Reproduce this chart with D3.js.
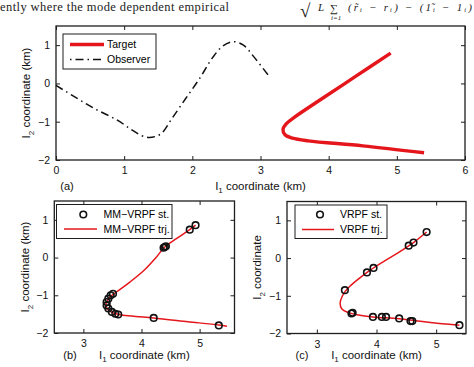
<!DOCTYPE html>
<html><head><meta charset="utf-8">
<script src="https://cdn.jsdelivr.net/npm/d3@7/dist/d3.min.js"></script>
<style>body{margin:0;background:#fff}svg{display:block}</style>
</head><body>
<svg id="c" width="474" height="367"></svg>
<script>
// ---- data ----
const targetX = [4.91, 4.4, 3.9, 3.5, 3.38, 3.33, 3.36, 3.47, 3.7, 4.5, 5.4];
const targetY = [0.79, 0.19, -0.4, -0.88, -1.05, -1.2, -1.34, -1.43, -1.5, -1.63, -1.81];
const observerX = [0, 0.3, 0.6, 0.9, 1.1, 1.25, 1.35, 1.45, 1.55, 1.7, 1.9, 2.1, 2.3, 2.45, 2.6, 2.75, 2.9, 3.12];
const observerY = [-0.05, -0.38, -0.69, -0.96, -1.2, -1.36, -1.41, -1.39, -1.3, -0.92, -0.4, 0.11, 0.68, 0.98, 1.09, 1.0, 0.7, 0.2];

const mmStX = [4.93, 4.83, 4.38, 4.42, 4.40, 3.51, 3.47, 3.43, 3.40, 3.40, 3.43, 3.49, 3.55, 3.60, 4.21, 5.33];
const mmStY = [0.86, 0.74, 0.26, 0.30, 0.28, -0.96, -1.0, -1.09, -1.18, -1.27, -1.35, -1.44, -1.49, -1.51, -1.60, -1.80];
const mmTrjX = [4.93, 4.83, 4.6, 4.4, 4.25, 4.05, 3.8, 3.58, 3.45, 3.39, 3.41, 3.5, 3.65, 3.9, 4.21, 4.8, 5.33, 5.47];
const mmTrjY = [0.86, 0.74, 0.5, 0.28, 0.0, -0.33, -0.65, -0.9, -1.06, -1.22, -1.36, -1.46, -1.52, -1.56, -1.6, -1.7, -1.79, -1.82];

const vrStX = [4.84, 4.62, 4.54, 3.95, 3.84, 3.47, 3.60, 3.58, 3.94, 4.09, 4.16, 4.38, 4.57, 4.60, 5.39];
const vrStY = [0.69, 0.41, 0.33, -0.26, -0.38, -0.85, -1.45, -1.47, -1.56, -1.56, -1.56, -1.60, -1.67, -1.67, -1.78];
const vrTrjX = [4.84, 4.62, 4.4, 4.15, 3.9, 3.7, 3.52, 3.43, 3.39, 3.42, 3.52, 3.7, 3.94, 4.38, 4.8, 5.1, 5.39];
const vrTrjY = [0.69, 0.41, 0.18, -0.06, -0.31, -0.55, -0.8, -1.0, -1.2, -1.35, -1.44, -1.51, -1.56, -1.61, -1.69, -1.74, -1.78];

const xTicksA = [0, 1, 2, 3, 4, 5, 6];
const xTicksBC = [3, 4, 5];
const yTicks = [-2, -1, 0, 1];

// ---- drawing ----
const svg = d3.select("#c");
const FONT = "Liberation Sans, Arial, Helvetica, sans-serif";
const RED = "#e5161b";
const INK = "#1e1e1e";
const fmt = d => d < 0 ? "\u2212" + Math.abs(d) : String(d);

// header text (scanned page fragment)
svg.append("text").attr("x", 0).attr("y", 11)
  .attr("font-family", "Liberation Serif, DejaVu Serif, serif").attr("font-size", 12.5)
  .attr("fill", "#222").attr("textLength", 229).attr("lengthAdjust", "spacing")
  .text("ently where the mode dependent empirical");
const fh = svg.append("g").attr("font-family", "Liberation Serif, DejaVu Serif, serif").attr("fill", "#222");
fh.append("text").attr("x", 300).attr("y", 17).attr("font-size", 19).text("\u221A");
fh.append("text").attr("x", 318).attr("y", 11).attr("font-size", 11).attr("font-style", "italic").text("L");
fh.append("text").attr("x", 330).attr("y", 12).attr("font-size", 11).text("\u2211");
fh.append("text").attr("x", 331).attr("y", 20).attr("font-size", 7).attr("font-style", "italic").text("i=1");
fh.append("text").attr("x", 348).attr("y", 11).attr("font-size", 11).attr("font-style", "italic")
  .attr("textLength", 124).attr("lengthAdjust", "spacing").text("(r\u0303\u1D62 \u2212 r\u1D62)  \u2212  (1\u0303\u1D62 \u2212 1\u1D62)");

function panel(cfg) {
  const x = d3.scaleLinear().domain(cfg.xd).range(cfg.xr);
  const y = d3.scaleLinear().domain([-2, 1.5]).range(cfg.yr);
  const g = svg.append("g");
  const axStyle = sel => {
    sel.select(".domain").remove();
    sel.selectAll("line").attr("stroke", INK).attr("stroke-width", 1);
    sel.selectAll("text").attr("font-family", FONT).attr("font-size", 10.5).attr("fill", "#111");
  };
  g.append("g").attr("transform", `translate(0,${cfg.yr[0]})`)
    .call(d3.axisBottom(x).tickValues(cfg.xt).tickFormat(fmt).tickSize(-4).tickPadding(7)).call(axStyle);
  g.append("g").attr("transform", `translate(0,${cfg.yr[1]})`)
    .call(d3.axisTop(x).tickValues(cfg.xt).tickFormat("").tickSize(-4)).call(axStyle);
  g.append("g").attr("transform", `translate(${cfg.xr[0]},0)`)
    .call(d3.axisLeft(y).tickValues(yTicks).tickFormat(fmt).tickSize(-4).tickPadding(6)).call(axStyle);
  g.append("g").attr("transform", `translate(${cfg.xr[1]},0)`)
    .call(d3.axisRight(y).tickValues(yTicks).tickFormat("").tickSize(-4)).call(axStyle);
  g.append("rect").attr("x", cfg.xr[0]).attr("y", cfg.yr[1])
    .attr("width", cfg.xr[1] - cfg.xr[0]).attr("height", cfg.yr[0] - cfg.yr[1])
    .attr("fill", "none").attr("stroke", INK).attr("stroke-width", 1.3);

  // x label
  const xl = g.append("text").attr("x", (cfg.xr[0] + cfg.xr[1]) / 2).attr("y", cfg.xly)
    .attr("text-anchor", "middle").attr("font-family", FONT).attr("font-size", 11.5).attr("fill", "#111");
  xl.append("tspan").text("I");
  xl.append("tspan").attr("dy", 3.5).attr("font-size", 8).text("1");
  xl.append("tspan").attr("dy", -3.5).text(" coordinate (km)");
  // y label
  const yl = g.append("text").attr("transform", `translate(${cfg.ylx},${(cfg.yr[0] + cfg.yr[1]) / 2}) rotate(-90)`)
    .attr("text-anchor", "middle").attr("font-family", FONT).attr("font-size", 11.5).attr("fill", "#111");
  yl.append("tspan").text("I");
  yl.append("tspan").attr("dy", 3.5).attr("font-size", 8).text("2");
  yl.append("tspan").attr("dy", -3.5).text(cfg.ytext);
  // panel tag
  g.append("text").attr("x", cfg.tag[0]).attr("y", cfg.tag[1]).attr("text-anchor", "middle")
    .attr("font-family", FONT).attr("font-size", 11).attr("fill", "#111").text(cfg.tagText);
  return {g, x, y};
}

const line = (x, y) => d3.line().x(d => x(d[0])).y(d => y(d[1])).curve(d3.curveCatmullRom.alpha(0.5));
const zip = (a, b) => a.map((v, i) => [v, b[i]]);

// ---- panel (a) ----
const A = panel({xd: [0, 6], xr: [56, 465], yr: [160, 26], xt: xTicksA, xly: 189.5, ylx: 30,
  ytext: " coordinate (km)", tag: [67, 189.5], tagText: "(a)"});
A.g.append("path").datum(zip(observerX, observerY)).attr("d", line(A.x, A.y))
  .attr("fill", "none").attr("stroke", "#111").attr("stroke-width", 1.5).attr("stroke-dasharray", "8,4,1.5,4");
A.g.append("path").datum(zip(targetX, targetY)).attr("d", line(A.x, A.y))
  .attr("fill", "none").attr("stroke", RED).attr("stroke-width", 3.4).attr("stroke-linecap", "butt");
// legend (a)
const LA = A.g.append("g");
LA.append("rect").attr("x", 63).attr("y", 34).attr("width", 93).attr("height", 35)
  .attr("fill", "#fff").attr("stroke", INK).attr("stroke-width", 1);
LA.append("line").attr("x1", 70).attr("x2", 104).attr("y1", 44.5).attr("y2", 44.5).attr("stroke", RED).attr("stroke-width", 3.4);
LA.append("line").attr("x1", 70).attr("x2", 104).attr("y1", 59.5).attr("y2", 59.5)
  .attr("stroke", "#111").attr("stroke-width", 1.5).attr("stroke-dasharray", "1.5,4,8,4");
LA.append("text").attr("x", 107).attr("y", 48).attr("font-family", FONT).attr("font-size", 10.5).text("Target");
LA.append("text").attr("x", 107).attr("y", 63).attr("font-family", FONT).attr("font-size", 10.5).text("Observer");

// ---- panels (b) and (c) ----
function trjPanel(cfg, stX, stY, trX, trY, names) {
  const P = panel(cfg);
  P.g.append("path").datum(zip(trX, trY)).attr("d", line(P.x, P.y))
    .attr("fill", "none").attr("stroke", RED).attr("stroke-width", 1.5);
  P.g.selectAll("circle.st").data(zip(stX, stY)).join("circle").attr("class", "st")
    .attr("cx", d => P.x(d[0])).attr("cy", d => P.y(d[1])).attr("r", 3.3)
    .attr("fill", "none").attr("stroke", "#111").attr("stroke-width", 1.6);
  const L = P.g.append("g");
  const lg = cfg.leg;
  L.append("rect").attr("x", lg.x0).attr("y", lg.y0).attr("width", lg.x1 - lg.x0).attr("height", lg.y1 - lg.y0)
    .attr("fill", "#fff").attr("stroke", INK).attr("stroke-width", 1);
  L.append("circle").attr("cx", lg.mx).attr("cy", lg.e1).attr("r", 3.3)
    .attr("fill", "none").attr("stroke", "#111").attr("stroke-width", 1.6);
  L.append("line").attr("x1", lg.l0).attr("x2", lg.l1).attr("y1", lg.e2).attr("y2", lg.e2)
    .attr("stroke", RED).attr("stroke-width", 1.5);
  L.append("text").attr("x", lg.tx).attr("y", lg.e1 + 3.7).attr("font-family", FONT).attr("font-size", 10.5).text(names[0]);
  L.append("text").attr("x", lg.tx).attr("y", lg.e2 + 3.7).attr("font-family", FONT).attr("font-size", 10.5).text(names[1]);
}

trjPanel({xd: [2.5, 5.6], xr: [54.3, 234.5], yr: [333, 201], xt: xTicksBC, xly: 358.5, ylx: 29,
  ytext: " coordinate (km)", tag: [70, 358.5], tagText: "(b)",
  leg: {x0: 56.5, x1: 172, y0: 204.5, y1: 238.5, mx: 83.3, l0: 64, l1: 97, tx: 103.5, e1: 214.5, e2: 229}},
  mmStX, mmStY, mmTrjX, mmTrjY, ["MM\u2212VRPF st.", "MM\u2212VRPF trj."]);

trjPanel({xd: [2.5, 5.5], xr: [287, 466], yr: [333.5, 201.5], xt: xTicksBC, xly: 358.5, ylx: 261,
  ytext: " coordinate", tag: [302, 358.5], tagText: "(c)",
  leg: {x0: 295, x1: 387, y0: 205, y1: 238.5, mx: 320, l0: 302, l1: 334, tx: 340, e1: 214.5, e2: 229.5}},
  vrStX, vrStY, vrTrjX, vrTrjY, ["VRPF st.", "VRPF trj."]);
</script>
</body></html>
